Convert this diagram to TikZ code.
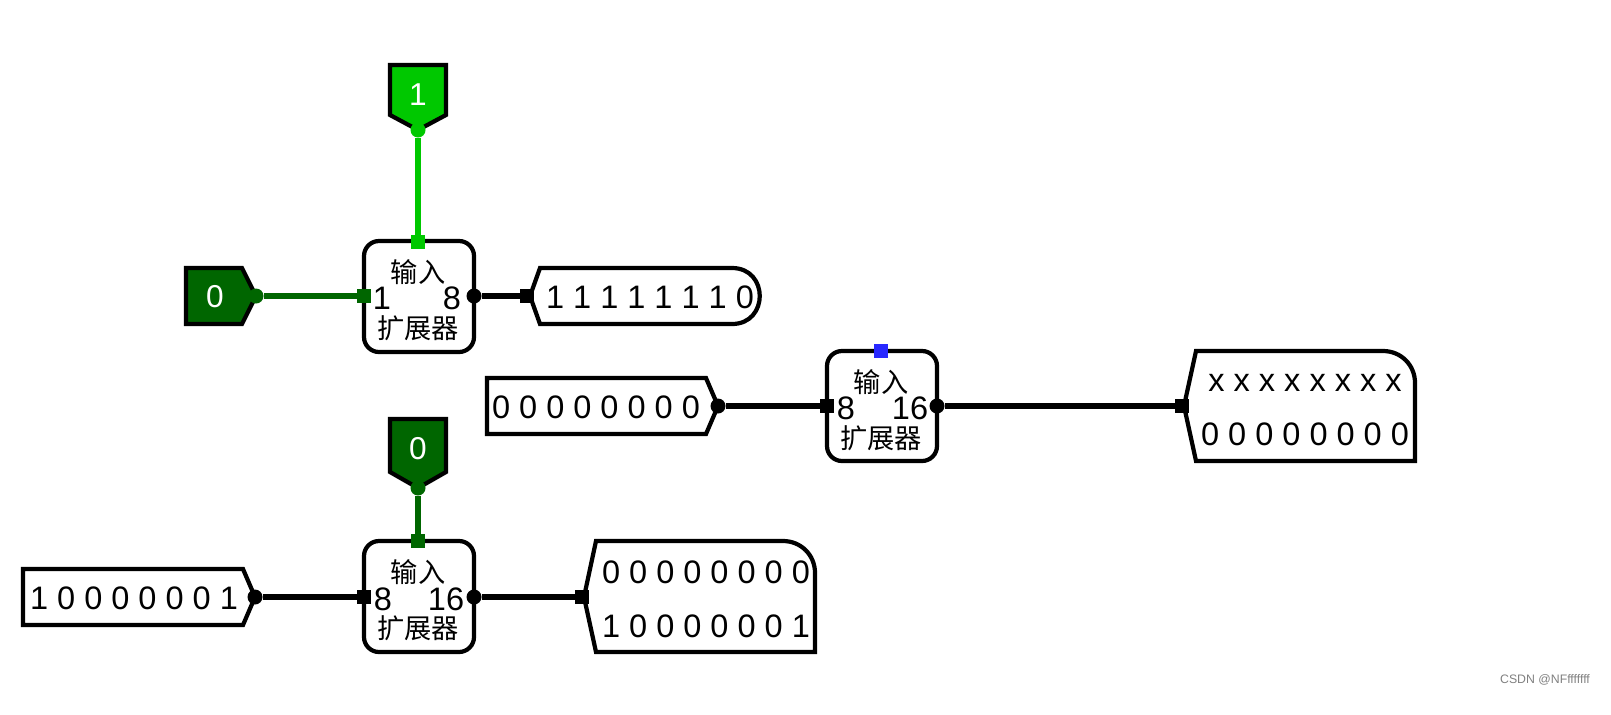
\documentclass[tikz,border=0pt]{standalone}
\usepackage{fontspec}
\setmainfont{Liberation Sans}
\newfontfamily\cjk{Noto Sans CJK SC}
\definecolor{bg}{RGB}{0,200,0}
\definecolor{dg}{RGB}{0,102,0}
\definecolor{bl}{RGB}{40,40,255}
\begin{document}
\begin{tikzpicture}[x=0.02cm,y=-0.02cm,
 ln/.style={line width=2.4pt},
 wire/.style={line width=3pt},
 sq/.style={minimum size=0.28cm,inner sep=0,fill},
 dot/.style={circle,minimum size=0.3cm,inner sep=0,fill},
 txt/.style={font=\fontsize{18.5}{18.5}\selectfont,inner sep=0},
 ctxt/.style={font=\cjk\fontsize{15.5}{15.5}\selectfont,inner sep=0},
 lbl/.style={font=\fontsize{18}{18}\selectfont,text=white}]
\useasboundingbox (0,0) rectangle (1611,714);
% pin 1 bright green
\draw[ln,fill=bg] (390,65) -- (446,65) -- (446,115) -- (418,130) -- (390,115) -- cycle;
\node[lbl] (p1) at (418,95) {1};
\node[dot,fill=bg] (p1o) at (418,130) {};
\node[sq,fill=bg] (b1t) at (418,242) {};
\draw[wire,bg] (p1o) -- (b1t);
% pin 0 dark green
\draw[ln,fill=dg] (186,268) -- (242,268) -- (256,296) -- (242,324) -- (186,324) -- cycle;
\node[lbl] (p0) at (215,297) {0};
\node[dot,fill=dg] (p0o) at (256,296) {};
\node[sq,fill=dg] (b1i) at (364,296) {};
\draw[wire,dg] (p0o) -- (b1i);
% box 1
\draw[ln,fill=white,rounded corners=0.3cm] (364,241) rectangle (474,352);
\node[sq,fill=bg] at (418,242) {};
\node[sq,fill=dg] at (364,296) {};
\node[ctxt] (b1a) at (418,272) {输入};
\node[txt] (b1b) at (382,298) {1};
\node[txt] (b1c) at (452,298) {8};
\node[ctxt] (b1d) at (418,328) {扩展器};
\node[dot] (b1o) at (474,296) {};
\node[sq] (o1i) at (527,296) {};
\draw[wire] (b1o) -- (o1i);
\draw[ln,fill=white] (540,268) -- (732,268) .. controls (769,268) and (769,324) .. (732,324) -- (540,324) -- (530,296) -- cycle;
\node[sq] at (527,296) {};
\node[txt] (o1) at (650,297) {1 1 1 1 1 1 1 0};
% input 00000000
\draw[ln,fill=white] (487,378) -- (706,378) -- (718,406) -- (706,434) -- (487,434) -- cycle;
\node[txt] (i2) at (596,407) {0 0 0 0 0 0 0 0};
\node[dot] (i2o) at (718,406) {};
\node[sq] (b2i) at (827,406) {};
\draw[wire] (i2o) -- (b2i);
\draw[ln,fill=white,rounded corners=0.3cm] (827,351) rectangle (937,461);
\node[sq] at (827,406) {};
\node[sq,fill=bl] (b2t) at (881,351) {};
\node[ctxt] (b2a) at (881,382) {输入};
\node[txt] (b2b) at (846,408) {8};
\node[txt] (b2c) at (910,408) {16};
\node[ctxt] (b2d) at (881,438) {扩展器};
\node[dot] (b2o) at (937,406) {};
\node[sq] (o2i) at (1182,406) {};
\draw[wire] (b2o) -- (o2i);
\draw[ln,fill=white] (1196,351) -- (1383,351) .. controls (1401,351) and (1415,365) .. (1415,383) -- (1415,461) -- (1196,461) -- (1184,406) -- cycle;
\node[sq] at (1182,406) {};
\node[txt] (o2a) at (1305,383) {x x x x x x x x};
\node[txt] (o2b) at (1305,434) {0 0 0 0 0 0 0 0};
% pin 0 top dark
\draw[ln,fill=dg] (390,419) -- (446,419) -- (446,472) -- (418,488) -- (390,472) -- cycle;
\node[lbl] (p3) at (418,449) {0};
\node[dot,fill=dg] (p3o) at (418,488) {};
\node[sq,fill=dg] (b3t) at (418,541) {};
\draw[wire,dg] (p3o) -- (b3t);
% input 10000001
\draw[ln,fill=white] (23,569) -- (243,569) -- (255,597) -- (243,625) -- (23,625) -- cycle;
\node[txt] (i3) at (134,598) {1 0 0 0 0 0 0 1};
\node[dot] (i3o) at (255,597) {};
\node[sq] (b3i) at (364,597) {};
\draw[wire] (i3o) -- (b3i);
\draw[ln,fill=white,rounded corners=0.3cm] (364,541) rectangle (474,652);
\node[sq,fill=dg] at (418,541) {};
\node[sq] at (364,597) {};
\node[ctxt] (b3a) at (418,572) {输入};
\node[txt] (b3b) at (383,599) {8};
\node[txt] (b3c) at (446,599) {16};
\node[ctxt] (b3d) at (418,628) {扩展器};
\node[dot] (b3o) at (474,597) {};
\node[sq] (o3i) at (582,597) {};
\draw[wire] (b3o) -- (o3i);
\draw[ln,fill=white] (596,541) -- (783,541) .. controls (801,541) and (815,555) .. (815,573) -- (815,652) -- (596,652) -- (584,597) -- cycle;
\node[sq] at (582,597) {};
\node[txt] (o3a) at (706,572) {0 0 0 0 0 0 0 0};
\node[txt] (o3b) at (706,626) {1 0 0 0 0 0 0 1};
\node[font=\fontsize{7}{7}\selectfont,text=gray] (wm) at (1545,680) {CSDN @NFfffffff};
\end{tikzpicture}
\end{document}
